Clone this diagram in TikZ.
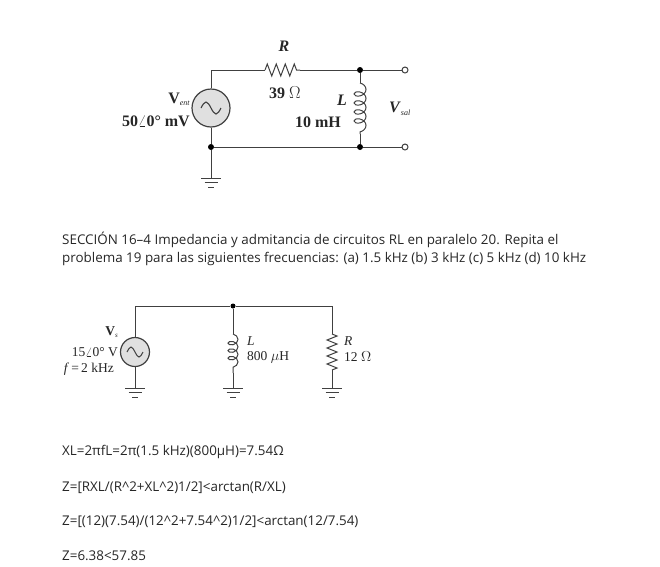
\documentclass[tikz,border=0pt]{standalone}
\usepackage{fontspec}
\setmainfont{Liberation Serif}
\newfontfamily\uifont{Open Sans}
\usetikzlibrary{decorations.pathmorphing}
\begin{document}
\begin{tikzpicture}[x=1pt,y=-1pt,
  wire/.style={draw=black!75,line width=1pt},
  dotn/.style={circle,fill=black,inner sep=0pt,minimum size=6pt},
  term/.style={circle,draw=black!75,fill=white,inner sep=0pt,minimum size=6pt,line width=1pt},
  src/.style={circle,draw=black!75,fill=black!12,line width=1.2pt,inner sep=0pt},
  lbl/.style={inner sep=1pt,text=black!85,font=\fontsize{16}{18}\selectfont},
  txt/.style={font=\uifont\fontsize{13.4}{16}\selectfont,anchor=west,inner sep=0pt,text=black!85},
  coil/.style={decorate,decoration={coil,aspect=0.7,segment length=9pt,amplitude=6pt}}]
\useasboundingbox (0,0) rectangle (660,566);
\newcommand{\gnd}[1]{\draw[wire] (#1)++(-10,0)--++(20,0) (#1)++(-6.5,4.5)--++(13,0) (#1)++(-3,9)--++(6,0);}
% circuit 1
\node[src,minimum size=38pt] (s1) at (211,108) {};
\draw[black!75,line width=1.1pt] (201,108) sin (206,102) cos (211,108) sin (216,114) cos (221,108);
\coordinate (tl) at (211,70); \coordinate (r1a) at (265,70); \coordinate (r1b) at (300,70);
\node[dotn] (j1) at (360,70) {}; \node[dotn] (j2) at (360,147) {}; \node[dotn] (j3) at (211,147) {};
\node[term] (o1) at (405,70) {}; \node[term] (o2) at (405,147) {};
\coordinate (g1) at (211,178);
\draw[wire] (s1)--(tl)--(r1a) (r1b)--(j1)--(o1) (s1)--(j3)--(j2)--(o2) (j3)--(g1);
\draw[wire,decorate,decoration={zigzag,segment length=9pt,amplitude=6pt}] (r1a)--(r1b);
\coordinate (l1a) at (360,83); \coordinate (l1b) at (360,134);
\draw[wire] (j1)--(l1a) (l1b)--(j2);
\draw[wire,coil] (l1a)--(l1b);
\gnd{g1}
\node[lbl] at (284,46) {\textit{\textbf{R}}};
\node[lbl] at (285,93) {\textbf{39 $\Omega$}};
\node[lbl] at (342,100) {\textit{\textbf{L}}};
\node[lbl] at (318,122) {\textbf{10 mH}};
\node[lbl,anchor=east] at (191,99) {\textbf{V}\raisebox{-2pt}{\footnotesize\textit{ent}}};
\node[lbl,anchor=east] at (191,121) {\textbf{50$\angle$0\textdegree\ mV}};
\node[lbl,anchor=west] at (388,109) {\textit{\textbf{V}}\raisebox{-3pt}{\footnotesize\textit{sal}}};
% text
\node[txt] (t1) at (62,240) {SECCIÓN 16–4 Impedancia y admitancia de circuitos RL en paralelo 20. Repita el};
\node[txt] (t2) at (62,259) {problema 19 para las siguientes frecuencias: (a) 1.5 kHz (b) 3 kHz (c) 5 kHz (d) 10 kHz};
% circuit 2
\node[src,minimum size=29pt] (s2) at (135,352) {};
\draw[black!75,line width=1pt] (127,352) sin (131,347) cos (135,352) sin (139,357) cos (143,352);
\coordinate (a1) at (135,306); \node[dotn,minimum size=5pt] (a2) at (233,306) {}; \coordinate (a3) at (332,306);
\coordinate (g2) at (135,388); \coordinate (g3) at (233,388); \coordinate (g4) at (332,388);
\coordinate (l2a) at (233,334); \coordinate (l2b) at (233,373);
\coordinate (r2a) at (332,334); \coordinate (r2b) at (332,370);
\draw[wire] (s2)--(a1)--(a2)--(a3)--(r2a) (r2b)--(g4) (s2)--(g2) (a2)--(l2a) (l2b)--(g3);
\draw[wire,decorate,decoration={coil,aspect=0.7,segment length=7.5pt,amplitude=5pt}] (l2a)--(l2b);
\draw[wire,decorate,decoration={zigzag,segment length=8pt,amplitude=5pt}] (r2a)--(r2b);
\gnd{g2}\gnd{g3}\gnd{g4}
\begin{scope}[every node/.style={lbl,font=\fontsize{13.5}{15}\selectfont}]
\node[anchor=east] at (119,332) {\textbf{V}\raisebox{-2pt}{\scriptsize\textit{s}}};
\node[anchor=east] at (119,352) {15$\angle$0\textdegree\ V};
\node[anchor=east] at (115,369) {\textit{f}\,=\,2 kHz};
\node[anchor=west] at (246,341) {\textit{L}};
\node[anchor=west] at (246,357) {800 $\mu$H};
\node[anchor=west] at (343,341) {\textit{R}};
\node[anchor=west] at (343,357) {12 $\Omega$};
\end{scope}
\node[txt] (e1) at (62,452) {XL=2πfL=2π(1.5 kHz)(800µH)=7.54Ω};
\node[txt] (e2) at (62,488) {Z=[RXL/(R\textasciicircum 2+XL\textasciicircum 2)1/2]<arctan(R/XL)};
\node[txt] (e3) at (62,522) {Z=[(12)(7.54)/(12\textasciicircum 2+7.54\textasciicircum 2)1/2]<arctan(12/7.54)};
\node[txt] (e4) at (62,556) {Z=6.38<57.85};
\end{tikzpicture}
\end{document}
